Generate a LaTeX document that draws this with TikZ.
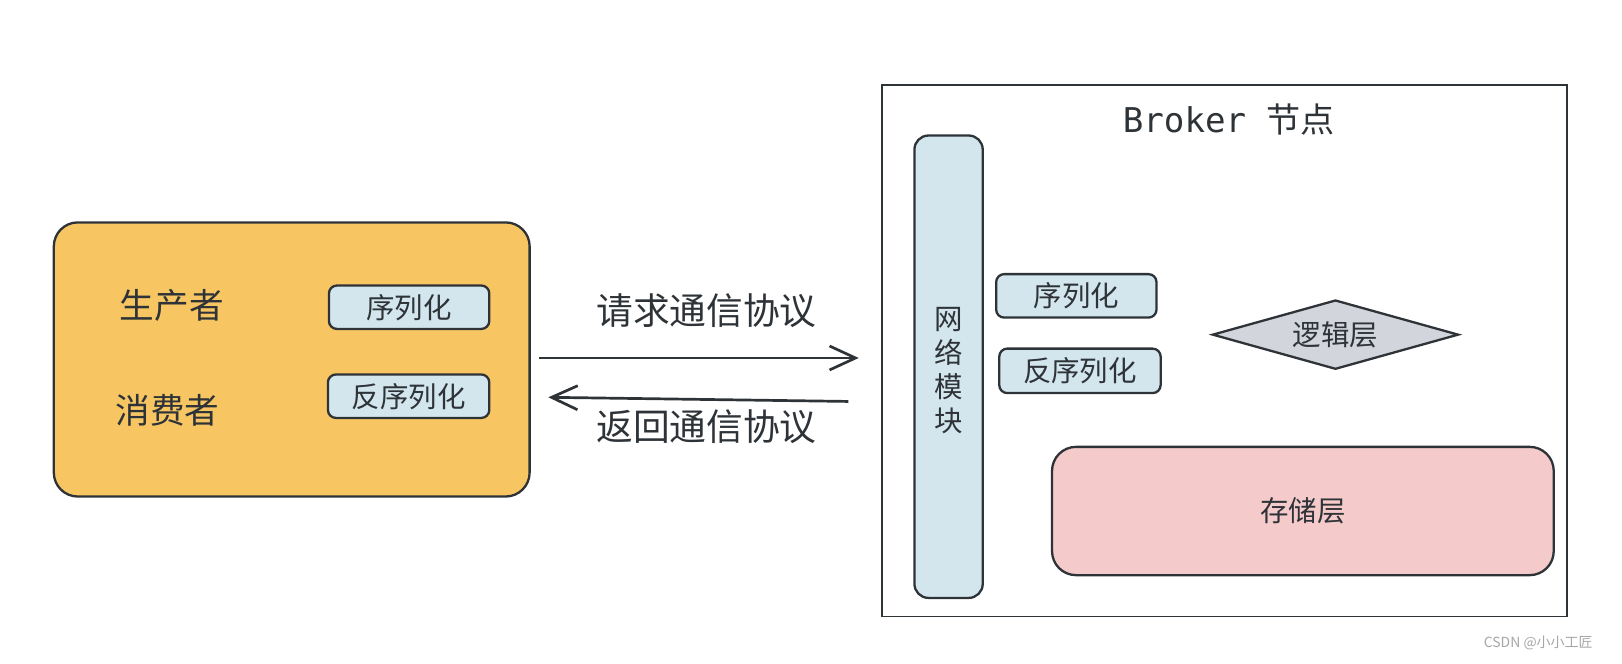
\documentclass[tikz,border=0pt]{standalone}
\usepackage{fontspec}
\setmainfont{Noto Sans CJK SC}
\newfontfamily\monofont{DejaVu Sans Mono}
\usetikzlibrary{arrows.meta,shapes.geometric}
\definecolor{ink}{HTML}{2E3338}
\definecolor{orangefill}{HTML}{F7C662}
\definecolor{bluefill}{HTML}{D3E6EE}
\definecolor{pinkfill}{HTML}{F4CBCA}
\definecolor{grayfill}{HTML}{D2D5DC}
\tikzset{
  every node/.style={text=ink, inner sep=0pt},
  sketch/.style={draw=ink, line width=2.3pt},
  midtext/.style={font=\fontsize{27.5}{33}\selectfont},
  smallbox/.style={sketch, fill=bluefill, rounded corners=8pt, midtext},
  bigtext/.style={font=\fontsize{33.5}{38}\selectfont},
  labeltext/.style={font=\fontsize{35.5}{40}\selectfont},
  flow/.style={draw=ink, line width=2.7pt, -{Straight Barb[length=26pt,width=24pt,line width=2.7pt]}},
}
\begin{document}
\begin{tikzpicture}[x=1pt, y=-1pt, scale=1.0344, transform shape]
\useasboundingbox (0,0) rectangle (1568,641);
% client side
\node[sketch, fill=orangefill, rounded corners=24pt, minimum width=460pt, minimum height=265pt] (client) at (282,347.5) {};
\node[bigtext] (prod) at (166,295) {生产者};
\node[bigtext] (cons) at (162,397) {消费者};
\node[smallbox, minimum width=155pt, minimum height=42pt] (ser1) at (395.5,297) {序列化};
\node[smallbox, minimum width=156pt, minimum height=42pt] (deser1) at (395,383) {反序列化};
% broker frame
\node[draw=ink, line width=1.8pt, minimum width=662pt, minimum height=514pt] (broker) at (1184,339) {};
\node (title) at (1188,116) {{\monofont\fontsize{33}{38}\selectfont Broker }\fontsize{33}{38}\selectfont 节点};
\node[smallbox, minimum width=66pt, minimum height=447pt, rounded corners=14pt] (net) at (917,354.5) {};
\node[midtext, align=center] (nettext) at (917,358) {网\\[0pt]络\\[0pt]模\\[0pt]块};
\node[smallbox, minimum width=155pt, minimum height=42pt] (ser2) at (1040.5,286) {序列化};
\node[smallbox, minimum width=156pt, minimum height=43pt] (deser2) at (1044,358.5) {反序列化};
\node[sketch, fill=grayfill, diamond, aspect=3.55, minimum width=238pt, minimum height=67pt, midtext] (logic) at (1291,323.5) {逻辑层};
\node[sketch, fill=pinkfill, rounded corners=24pt, minimum width=485pt, minimum height=124pt, midtext] (store) at (1259.5,494) {存储层};
% arrows
\coordinate (a1s) at (521,346);
\coordinate (a1e) at (830,346);
\coordinate (a2s) at (820,388);
\coordinate (a2e) at (530,384);
\draw[flow] (a1s) -- (a1e);
\draw[flow] (a2s) -- (a2e);
\node[labeltext] (req) at (683,300) {请求通信协议};
\node[labeltext] (resp) at (683,412) {返回通信协议};
% watermark
\node[text=gray!70, font=\fontsize{13.5}{16}\selectfont] (wm) at (1487,622) {CSDN @小小工匠};
\end{tikzpicture}
\end{document}
